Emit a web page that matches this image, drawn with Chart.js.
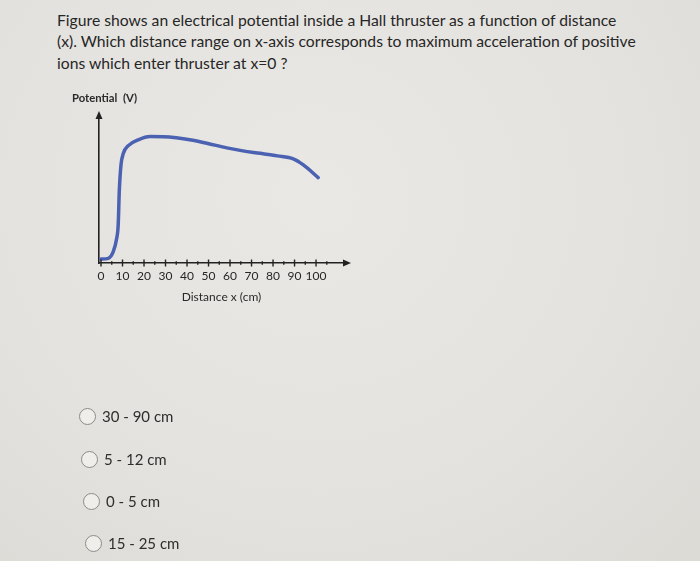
<!DOCTYPE html>
<html>
<head>
<meta charset="utf-8">
<script src="https://cdn.jsdelivr.net/npm/chart.js@4.4.1/dist/chart.umd.min.js"></script>
<style>
  html, body { margin: 0; padding: 0; }
  body {
    width: 700px; height: 561px; overflow: hidden; position: relative;
    background: radial-gradient(ellipse at 45% 35%, #e9e8e5 0%, #e4e2de 60%, #dcdad5 100%);
    font-family: Lato, "Open Sans", sans-serif; color: #2b2b2b;
  }
  #question {
    position: absolute; left: 57px; top: 9.5px; font-size: 15.7px; line-height: 21.5px;
    white-space: nowrap; color: #262626;
  }
  #chartWrap { position: absolute; left: 0; top: 0; width: 700px; height: 561px; }
  .opt { position: absolute; display: flex; align-items: center; font-size: 15px; color: #2e2e2e; }
  .opt .radio {
    width: 17px; height: 17px; border-radius: 50%; border: 1.3px solid #8a8a8a;
    background: #efeeeb; margin-right: 6px; box-sizing: border-box;
  }
</style>
</head>
<body>
<div id="question">Figure shows an electrical potential inside a Hall thruster as a function of distance<br>(x). Which distance range on x-axis corresponds to maximum acceleration of positive<br>ions which enter thruster at x=0 ?</div>
<div id="chartWrap"><canvas id="c" width="700" height="561"></canvas></div>
<div id="options"></div>
<script>
// ---- data ----
const distance = [0, 3.4, 5.7, 7.3, 8.0, 8.5, 9.3, 10.4, 12.7, 17.3, 22.8, 29, 35, 42, 49.2, 58.5, 66, 74, 82, 89.4, 94.1, 101];
const potential = [2.6, 3.1, 7.5, 16.4, 25.2, 47.2, 64.9, 72.6, 77.7, 81.5, 83.7, 83.6, 82.9, 81.4, 79.3, 76.2, 74.2, 72.6, 70.9, 68.9, 64.9, 56.5];
const xTickLabels = [0, 10, 20, 30, 40, 50, 60, 70, 80, 90, 100];
const xMarkValues = [0, 5, 10, 15, 20, 25, 30, 35, 40, 45, 50, 55, 60, 65, 70, 75, 80, 85, 90, 95, 100, 105];
const yAxisTitle = 'Potential  (V)';
const xAxisTitle = 'Distance x (cm)';
const answerChoices = ['30 - 90 cm', '5 - 12 cm', '0 - 5 cm', '15 - 25 cm'];

// ---- answer options ----
const optPos = [[79, 416], [81, 459], [83, 501], [85, 543]];
const optBox = document.getElementById('options');
answerChoices.forEach((t, i) => {
  const d = document.createElement('div');
  d.className = 'opt';
  d.style.left = optPos[i][0] + 'px';
  d.style.top = (optPos[i][1] - 9) + 'px';
  d.style.height = '18px';
  d.innerHTML = '<span class="radio"></span><span>' + t + '</span>';
  optBox.appendChild(d);
});

// ---- axis decorations plugin ----
const axisDeco = {
  id: 'axisDeco',
  afterDraw(chart) {
    const ctx = chart.ctx;
    const xs = chart.scales.x;
    const a = chart.chartArea;
    ctx.save();
    ctx.strokeStyle = '#222';
    ctx.fillStyle = '#222';
    ctx.lineWidth = 1.4;
    const y0 = a.bottom;
    xMarkValues.forEach(v => {
      const px = xs.getPixelForValue(v);
      const major = v % 10 === 0;
      ctx.beginPath();
      ctx.moveTo(px, y0 - (major ? 3.5 : 1.8));
      ctx.lineTo(px, y0 + (major ? 3.5 : 1.8));
      ctx.stroke();
    });
    ctx.beginPath();
    ctx.moveTo(a.right + 7, y0);
    ctx.lineTo(a.right - 1, y0 - 3.5);
    ctx.lineTo(a.right - 1, y0 + 3.5);
    ctx.closePath();
    ctx.fill();
    const xl = a.left;
    ctx.beginPath();
    ctx.moveTo(xl, a.top - 7);
    ctx.lineTo(xl - 3.5, a.top + 1);
    ctx.lineTo(xl + 3.5, a.top + 1);
    ctx.closePath();
    ctx.fill();
    ctx.restore();
  }
};

new Chart(document.getElementById('c'), {
  type: 'line',
  data: {
    datasets: [{
      data: distance.map((x, i) => ({ x: x, y: potential[i] })),
      borderColor: '#4b61b2',
      borderWidth: 3.5,
      pointRadius: 0,
      fill: false,
      cubicInterpolationMode: 'monotone',
      borderCapStyle: 'round',
      borderJoinStyle: 'round'
    }]
  },
  options: {
    responsive: false,
    animation: false,
    devicePixelRatio: 1,
    layout: { padding: { left: 72, top: 92, right: 356, bottom: 256.8 } },
    plugins: {
      legend: { display: false },
      tooltip: { enabled: false },
      title: {
        display: true, text: yAxisTitle, align: 'start',
        color: '#2a2a2a', font: { family: 'Lato', size: 11.3, weight: 'bold' },
        padding: { top: 0, bottom: 12.4 }
      }
    },
    scales: {
      x: {
        type: 'linear', min: -0.93, max: 113,
        afterBuildTicks: s => { s.ticks = xTickLabels.map(v => ({ value: v })); },
        afterFit: s => { s.height = 41.2; },
        grid: { display: false, drawTicks: false },
        border: { display: true, color: '#222', width: 1.6 },
        ticks: { padding: 5.8, color: '#262626', font: { family: 'Lato', size: 12 }, maxRotation: 0, autoSkip: false },
        title: { display: true, text: xAxisTitle, color: '#2a2a2a', font: { family: 'Lato', size: 12 }, padding: { top: 0, bottom: 0 } }
      },
      y: {
        type: 'linear', min: 0, max: 96,
        afterFit: s => { s.width = 27; },
        grid: { display: false, drawTicks: false },
        border: { display: true, color: '#222', width: 1.6 },
        ticks: { display: false }
      }
    }
  },
  plugins: [axisDeco]
});
</script>
</body>
</html>
